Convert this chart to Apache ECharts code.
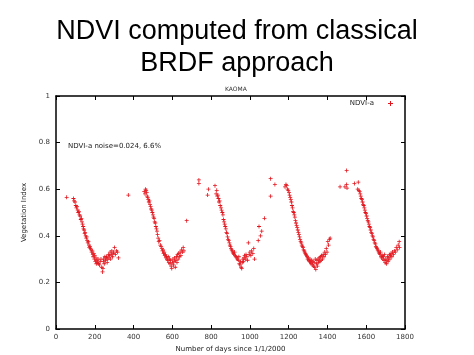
<!DOCTYPE html>
<html>
<head>
<meta charset="utf-8">
<script src="https://cdn.jsdelivr.net/npm/echarts@6/dist/echarts.min.js"></script>
<style>
  html, body { margin: 0; padding: 0; background: #fff; }
  #chart { width: 474px; height: 355px; }
</style>
</head>
<body>
<div id="chart"></div>
<script>
// axis ticks
const xTicks = [0, 200, 400, 600, 800, 1000, 1200, 1400, 1600, 1800]
const yTicks = [0, 0.2, 0.4, 0.6, 0.8, 1]

// NDVI-a samples [day, value], one array per season
const season1 = [
  [55,0.565],[90,0.56],[93,0.55],[98,0.545],[102,0.53],[105,0.52],[108,0.525],[112,0.51],[115,0.5],[118,0.505],
  [121,0.49],[124,0.485],[128,0.47],[131,0.475],[134,0.46],[137,0.45],[140,0.44],[142,0.43],[145,0.425],[148,0.41],
  [150,0.415],[153,0.4],[156,0.39],[158,0.395],[161,0.38],[164,0.37],[167,0.375],[170,0.36],[172,0.35],[175,0.355],
  [178,0.345],[181,0.34],[184,0.33],[187,0.335],[190,0.32],[192,0.31],[195,0.325],[198,0.3],[200,0.315],[203,0.29],
  [206,0.305],[208,0.28],[211,0.295],[214,0.285],[217,0.3],[220,0.28],[224,0.275],[228,0.29],[232,0.3],[236,0.265],
  [240,0.245],[242,0.26],[244,0.29],[246,0.3],[249,0.28],[252,0.31],[255,0.295],[258,0.305],[261,0.31],[264,0.285],
  [267,0.3],[270,0.32],[273,0.305],[276,0.315],[279,0.33],[282,0.3],[285,0.32],[288,0.335],[291,0.31],[295,0.325],
  [298,0.33],[302,0.35],[306,0.32],[312,0.335],[318,0.33],[322,0.305],[373,0.575]
]
const season2 = [
  [455,0.59],[459,0.58],[462,0.6],[465,0.595],[468,0.585],[470,0.57],[473,0.565],[476,0.555],[479,0.545],[482,0.55],
  [485,0.535],[488,0.525],[491,0.515],[494,0.51],[497,0.5],[500,0.49],[503,0.48],[506,0.475],[509,0.46],[512,0.455],
  [515,0.44],[518,0.43],[521,0.42],[524,0.405],[527,0.39],[530,0.375],[534,0.38],[538,0.36],[542,0.355],[546,0.345],
  [549,0.335],[552,0.34],[555,0.325],[558,0.33],[561,0.315],[564,0.32],[567,0.305],[570,0.31],[573,0.3],[576,0.295],
  [579,0.31],[582,0.285],[585,0.3],[588,0.28],[591,0.295],[594,0.27],[597,0.26],[600,0.285],[603,0.3],[606,0.275],
  [609,0.29],[612,0.305],[615,0.265],[618,0.295],[621,0.31],[624,0.285],[627,0.32],[630,0.3],[633,0.325],[636,0.31],
  [640,0.33],[644,0.315],[648,0.34],[652,0.33],[656,0.35],[660,0.335],[674,0.465]
]
const season3 = [
  [737,0.64],[737,0.625],[782,0.575],[786,0.6],[820,0.615],[826,0.58],[829,0.595],[832,0.57],[835,0.575],[838,0.56],
  [841,0.545],[844,0.55],[847,0.53],[851,0.52],[854,0.51],[858,0.5],[861,0.49],[864,0.47],[867,0.46],[870,0.45],
  [873,0.44],[876,0.43],[879,0.415],[882,0.41],[885,0.395],[888,0.385],[891,0.38],[894,0.37],[897,0.36],[900,0.355],
  [903,0.345],[906,0.34],[909,0.335],[912,0.33],[915,0.325],[918,0.32],[921,0.33],[924,0.315],[928,0.31],[932,0.305],
  [936,0.3],[940,0.295],[943,0.31],[946,0.28],[949,0.275],[952,0.29],[955,0.265],[958,0.26],[961,0.285],[964,0.3],
  [967,0.29],[970,0.305],[973,0.315],[976,0.3],[980,0.32],[984,0.31],[988,0.295],[992,0.37],[996,0.32],[1000,0.33],
  [1005,0.315],[1009,0.335],[1015,0.325],[1020,0.345],[1024,0.3],[1043,0.38],[1047,0.44],[1055,0.4],[1061,0.42],
  [1075,0.475],[1107,0.57],[1107,0.645],[1129,0.62]
]
const season4 = [
  [1181,0.61],[1186,0.62],[1190,0.615],[1194,0.6],[1198,0.595],[1202,0.585],[1205,0.575],[1208,0.565],[1211,0.555],[1214,0.545],
  [1217,0.53],[1220,0.52],[1223,0.505],[1226,0.5],[1229,0.49],[1232,0.48],[1235,0.465],[1238,0.455],[1241,0.445],[1244,0.435],
  [1247,0.425],[1250,0.415],[1253,0.405],[1256,0.395],[1259,0.385],[1262,0.375],[1265,0.37],[1268,0.36],[1271,0.355],[1274,0.35],
  [1277,0.34],[1280,0.335],[1283,0.33],[1286,0.325],[1289,0.32],[1292,0.315],[1295,0.31],[1298,0.3],[1301,0.305],[1304,0.295],
  [1307,0.29],[1310,0.3],[1313,0.285],[1316,0.28],[1319,0.295],[1322,0.275],[1325,0.29],[1328,0.27],[1331,0.285],[1334,0.265],
  [1337,0.3],[1340,0.255],[1343,0.28],[1346,0.295],[1349,0.27],[1352,0.3],[1355,0.285],[1358,0.305],[1361,0.29],[1364,0.31],
  [1367,0.295],[1370,0.315],[1374,0.3],[1378,0.32],[1382,0.31],[1386,0.33],[1390,0.32],[1394,0.345],[1398,0.33],[1402,0.375],
  [1406,0.36],[1410,0.385],[1414,0.39]
]
const season5 = [
  [1465,0.61],[1490,0.61],[1499,0.68],[1499,0.62],[1501,0.605],[1539,0.625],[1559,0.63],[1556,0.6],[1562,0.595],[1566,0.59],
  [1569,0.58],[1572,0.57],[1575,0.56],[1578,0.555],[1581,0.545],[1584,0.535],[1587,0.53],[1590,0.52],[1593,0.51],[1596,0.5],
  [1599,0.495],[1602,0.485],[1605,0.475],[1608,0.465],[1611,0.46],[1614,0.45],[1617,0.44],[1620,0.435],[1623,0.425],[1626,0.415],
  [1629,0.41],[1632,0.4],[1635,0.395],[1638,0.385],[1641,0.38],[1644,0.37],[1647,0.365],[1650,0.355],[1653,0.35],[1656,0.345],
  [1659,0.34],[1662,0.335],[1665,0.33],[1668,0.325],[1671,0.32],[1674,0.33],[1677,0.31],[1680,0.305],[1683,0.315],[1686,0.3],
  [1689,0.31],[1692,0.295],[1695,0.32],[1698,0.285],[1701,0.3],[1704,0.28],[1707,0.295],[1710,0.31],[1713,0.29],[1716,0.305],
  [1719,0.32],[1722,0.3],[1725,0.315],[1728,0.325],[1732,0.31],[1736,0.33],[1740,0.32],[1745,0.335],[1750,0.33],[1755,0.35],
  [1760,0.34],[1765,0.36],[1770,0.375],[1772,0.35]
]
const ndviA = season1.concat(season2, season3, season4, season5)

const chart = echarts.init(document.getElementById('chart'), null, {renderer: 'canvas'})

const plus = 'path://M2,0H3V2H5V3H3V5H2V3H0V2H2Z'
const tickFont = {fontFamily: 'DejaVu Sans', fontSize: 7, color: '#333', formatter: (v) => String(v)}
const frameLine = {show: true, onZero: false, lineStyle: {color: '#000', width: 1.5}}
const innerTick = {show: true, inside: true, length: 4, lineStyle: {color: '#000', width: 1}}

const option = {
  animation: false,
  title: [
    {
      text: 'NDVI computed from classical\nBRDF approach',
      left: 'center',
      top: 11,
      textStyle: {fontFamily: 'Liberation Sans', fontSize: 27, fontWeight: 'normal', color: '#000', lineHeight: 32},
    },
    {
      text: 'KAOMA',
      left: 220,
      top: 81,
      textStyle: {fontFamily: 'DejaVu Sans', fontSize: 6, fontWeight: 'normal', color: '#333'},
    },
    {
      text: 'NDVI-a noise=0.024, 6.6%',
      left: 63,
      top: 138,
      textStyle: {fontFamily: 'DejaVu Sans', fontSize: 7, fontWeight: 'normal', color: '#222'},
    },
  ],
  legend: {
    data: ['NDVI-a'],
    right: 81,
    top: 100,
    padding: 0,
    align: 'right',
    itemWidth: 5,
    itemHeight: 5,
    itemGap: 4,
    textStyle: {fontFamily: 'DejaVu Sans', fontSize: 7, color: '#222', padding: [0, 9, 0, 0]},
  },
  grid: {left: 56, right: 69, top: 96, bottom: 26, outerBoundsMode: 'none'},
  xAxis: [
    {
      type: 'value',
      min: xTicks[0],
      max: xTicks[xTicks.length - 1],
      interval: 200,
      name: 'Number of days since 1/1/2000',
      nameLocation: 'middle',
      nameGap: 14,
      nameTextStyle: {fontFamily: 'DejaVu Sans', fontSize: 7, color: '#222'},
      axisLine: frameLine,
      axisTick: innerTick,
      axisLabel: Object.assign({margin: 5}, tickFont),
      splitLine: {show: false},
    },
    {
      type: 'value',
      position: 'top',
      min: xTicks[0],
      max: xTicks[xTicks.length - 1],
      interval: 200,
      axisLine: frameLine,
      axisTick: innerTick,
      axisLabel: {show: false},
      splitLine: {show: false},
    },
  ],
  yAxis: [
    {
      type: 'value',
      min: yTicks[0],
      max: yTicks[yTicks.length - 1],
      interval: 0.2,
      name: 'Vegetation Index',
      nameLocation: 'middle',
      nameGap: 22,
      nameTextStyle: {fontFamily: 'DejaVu Sans', fontSize: 7, color: '#222'},
      axisLine: frameLine,
      axisTick: innerTick,
      axisLabel: Object.assign({margin: 6}, tickFont),
      splitLine: {show: false},
    },
    {
      type: 'value',
      position: 'right',
      min: yTicks[0],
      max: yTicks[yTicks.length - 1],
      interval: 0.2,
      axisLine: frameLine,
      axisTick: innerTick,
      axisLabel: {show: false},
      splitLine: {show: false},
    },
  ],
  series: [
    {
      name: 'NDVI-a',
      type: 'scatter',
      data: ndviA,
      symbol: plus,
      symbolSize: 4,
      itemStyle: {color: '#e4141c', opacity: 1},
    },
  ],
}

chart.setOption(option)
</script>
</body>
</html>
